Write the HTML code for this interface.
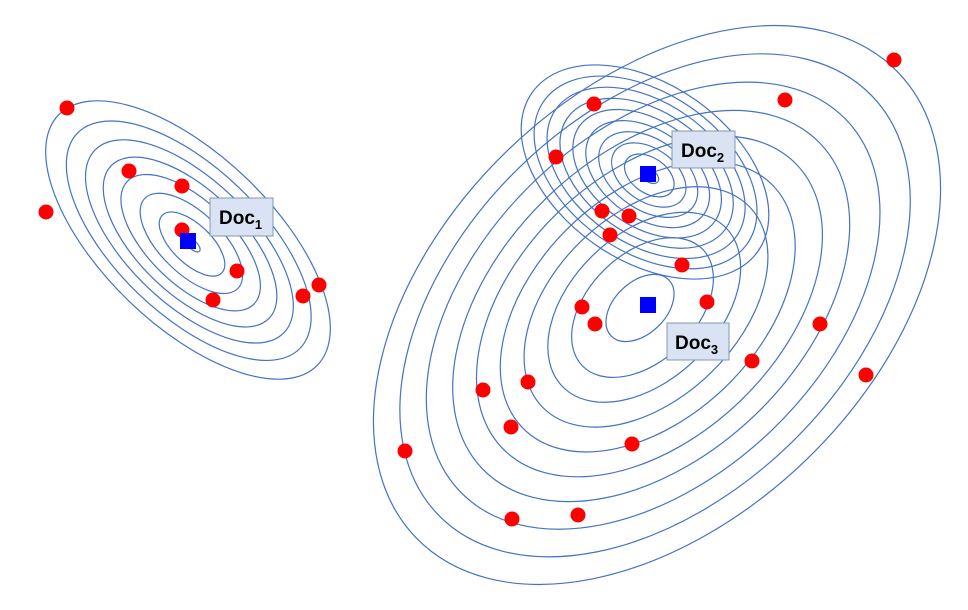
<!DOCTYPE html>
<html><head><meta charset="utf-8"><style>
html,body{margin:0;padding:0;background:#fff;width:968px;height:610px;overflow:hidden}
svg{display:block}
.lab{font-family:"Liberation Sans",sans-serif;font-weight:bold;font-size:19px;fill:#000}
</style></head><body>
<svg id="s" width="968" height="610" viewBox="0 0 968 610" xmlns="http://www.w3.org/2000/svg">
<g id="rings" fill="none" stroke="#4472c4" stroke-width="1.2"></g>
<g id="dots" fill="#ff0000"></g>
<g fill="#0000ff">
<rect x="180" y="233" width="16" height="16"/>
<rect x="640" y="166" width="16" height="16"/>
<rect x="640" y="297" width="16" height="16"/>
</g>
<g fill="#dae3f3" stroke="#8497b0" stroke-width="1">
<rect x="210" y="198" width="63" height="38"/>
<rect x="672" y="131" width="63" height="37"/>
<rect x="667" y="323" width="62" height="37"/>
</g>
<text class="lab" x="219" y="224">Doc<tspan font-size="13" dy="5">1</tspan></text>
<text class="lab" x="681" y="157">Doc<tspan font-size="13" dy="5">2</tspan></text>
<text class="lab" x="675" y="349">Doc<tspan font-size="13" dy="5">3</tspan></text>
</svg>
<script>
var NS="http://www.w3.org/2000/svg",g=document.getElementById("rings");
function fam(c0,c1,a,b,ang,scales){
 scales.forEach(function(k){
  var t=(k-scales[scales.length-1])/(1-scales[scales.length-1]);
  var cx=c1[0]+(c0[0]-c1[0])*t, cy=c1[1]+(c0[1]-c1[1])*t;
  var e=document.createElementNS(NS,"ellipse");
  e.setAttribute("cx",cx);e.setAttribute("cy",cy);
  e.setAttribute("rx",a*k);e.setAttribute("ry",b*k);
  e.setAttribute("transform","rotate("+ang+" "+cx+" "+cy+")");
  g.appendChild(e);
 });
}
fam([188,240],[193,245],180,85,44,[1,.86,.73,.61,.49,.36,.23,.05]);
fam([645,172],[650,176],138,88,35,[1,.9,.8,.7,.6,.5,.4,.3,.2,.07]);
fam([657,305],[640,308],335,215,-44,[1,.9,.8,.7,.61,.52,.43,.34,.25,.12]);
var d=[[67,108],[46,212],[129,171],[182,186],[182,230],[237,271],[213,300],[303,296],[319,285],
[594,104],[785,100],[894,60],[556,157],[602,211],[629,216],[610,235],[682,265],[707,302],[582,307],[595,324],[820,324],[752,361],[866,375],[528,382],[483,390],[511,427],[632,444],[405,451],[512,519],[578,515]];
var dg=document.getElementById("dots");
d.forEach(function(p){var c=document.createElementNS(NS,"circle");c.setAttribute("cx",p[0]);c.setAttribute("cy",p[1]);c.setAttribute("r",7.5);dg.appendChild(c);});
</script>
</body></html>
